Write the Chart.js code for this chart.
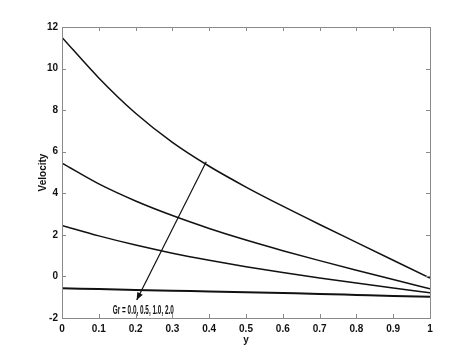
<!DOCTYPE html>
<html><head><meta charset="utf-8">
<script src="https://cdn.jsdelivr.net/npm/chart.js@4.4.0/dist/chart.umd.min.js"></script>
<style>html,body{margin:0;padding:0;background:#fff;}canvas{display:block;}</style>
</head><body>
<canvas id="c" width="474" height="358"></canvas>
<script>
const yPos = [0, 0.1, 0.2, 0.3, 0.4, 0.5, 0.6, 0.7, 0.8, 0.9, 1.0];
const velGr0 = [11.5, 9.55, 7.85, 6.45, 5.3, 4.3, 3.38, 2.5, 1.64, 0.78, -0.08];
const velGr05 = [5.45, 4.45, 3.63, 2.93, 2.31, 1.75, 1.24, 0.76, 0.30, -0.15, -0.59];
const velGr1 = [2.45, 1.95, 1.51, 1.12, 0.78, 0.47, 0.19, -0.07, -0.32, -0.56, -0.79];
const velGr2 = [-0.57, -0.61, -0.65, -0.69, -0.72, -0.76, -0.8, -0.84, -0.89, -0.94, -0.98];
const arrowX = [0.392, 0.203];
const arrowY = [5.52, -1.13];
const xTickLabels = ['0','0.1','0.2','0.3','0.4','0.5','0.6','0.7','0.8','0.9','1'];
const yTickValues = [-2, 0, 2, 4, 6, 8, 10, 12];
const annotationText = 'Gr = 0.0, 0.5, 1.0, 2.0';

const FONT = '"Liberation Sans", Arial, sans-serif';
const toPts = (arr) => arr.map((v, i) => ({x: yPos[i], y: v}));
const lineDs = (arr) => ({data: toPts(arr), borderColor: '#111', borderWidth: 1.5, pointRadius: 0, cubicInterpolationMode: 'monotone', fill: false});

const framePlugin = {
  id: 'frame',
  afterDraw(chart) {
    const {ctx, chartArea: a, scales} = chart;
    const xs = scales.x, ys = scales.y;
    ctx.save();
    ctx.strokeStyle = '#8a8a8a';
    ctx.lineWidth = 1;
    ctx.strokeRect(a.left + 0.5, a.top + 0.5, a.right - a.left, a.bottom - a.top);
    ctx.beginPath();
    const tl = 4;
    xs.ticks.forEach(t => {
      const px = Math.round(xs.getPixelForValue(t.value)) + 0.5;
      ctx.moveTo(px, a.bottom); ctx.lineTo(px, a.bottom - tl);
      ctx.moveTo(px, a.top); ctx.lineTo(px, a.top + tl);
    });
    ys.ticks.forEach(t => {
      const py = Math.round(ys.getPixelForValue(t.value)) + 0.5;
      ctx.moveTo(a.left, py); ctx.lineTo(a.left + tl, py);
      ctx.moveTo(a.right, py); ctx.lineTo(a.right - tl, py);
    });
    ctx.stroke();
    // arrow head
    const x1 = xs.getPixelForValue(arrowX[0]), y1 = ys.getPixelForValue(arrowY[0]);
    const x2 = xs.getPixelForValue(arrowX[1]), y2 = ys.getPixelForValue(arrowY[1]);
    const ang = Math.atan2(y2 - y1, x2 - x1);
    const L = 8, W = 0.4;
    ctx.fillStyle = '#111';
    ctx.beginPath();
    ctx.moveTo(x2, y2);
    ctx.lineTo(x2 - L * Math.cos(ang - W), y2 - L * Math.sin(ang - W));
    ctx.lineTo(x2 - L * Math.cos(ang + W), y2 - L * Math.sin(ang + W));
    ctx.closePath();
    ctx.fill();
    // label (condensed look)
    ctx.font = 'bold 12px ' + FONT;
    ctx.textAlign = 'center';
    ctx.textBaseline = 'middle';
    const w = ctx.measureText(annotationText).width;
    const sx = 61 / w;
    ctx.translate(xs.getPixelForValue(0.221), ys.getPixelForValue(-1.65));
    ctx.scale(sx, 1);
    ctx.fillText(annotationText, 0, 0);
    ctx.restore();
  }
};

new Chart(document.getElementById('c'), {
  type: 'line',
  data: {
    datasets: [
      lineDs(velGr0), lineDs(velGr05), lineDs(velGr1),
      Object.assign(lineDs(velGr2), {borderWidth: 2}),
      {data: arrowX.map((x, i) => ({x, y: arrowY[i]})), borderColor: '#111', borderWidth: 1.2, pointRadius: 0, fill: false}
    ]
  },
  options: {
    responsive: false,
    animation: false,
    layout: {padding: {top: 27, right: 44, left: 0, bottom: 0}},
    plugins: {legend: {display: false}, tooltip: {enabled: false}},
    scales: {
      x: {
        type: 'linear', min: 0, max: 1,
        afterFit(s) { s.height = 40; },
        afterBuildTicks(s) { s.ticks = yPos.map(v => ({value: v})); },
        grid: {display: false, drawTicks: false},
        border: {display: false},
        ticks: {padding: 5, color: '#111', font: {family: FONT, size: 10, weight: 'bold'}, maxRotation: 0, autoSkip: false,
          callback: (v, i) => xTickLabels[i]},
        title: {display: true, text: 'y', color: '#111', font: {family: FONT, size: 10, weight: 'bold'}, padding: {top: 0, bottom: 12}}
      },
      y: {
        type: 'linear', min: -2, max: 12,
        afterFit(s) { s.width = 62; },
        afterBuildTicks(s) { s.ticks = yTickValues.map(v => ({value: v})); },
        grid: {display: false, drawTicks: false},
        border: {display: false},
        ticks: {padding: 4, color: '#111', font: {family: FONT, size: 10, weight: 'bold'}, autoSkip: false},
        title: {display: true, text: 'Velocity', color: '#111', font: {family: FONT, size: 10, weight: 'bold'}, padding: {top: 37, bottom: 0}}
      }
    }
  },
  plugins: [framePlugin]
});
</script>
</body></html>
